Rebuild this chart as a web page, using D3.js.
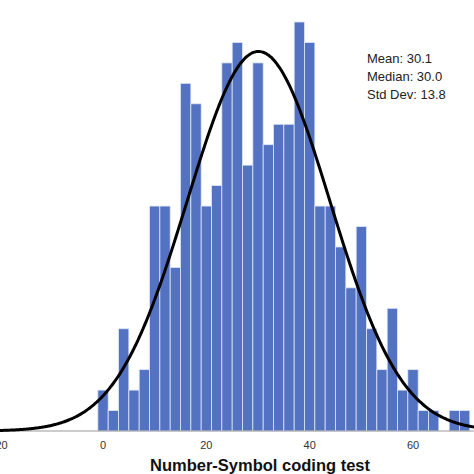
<!DOCTYPE html>
<html><head><meta charset="utf-8">
<script src="https://cdn.jsdelivr.net/npm/d3@7"></script>
<style>body{margin:0;background:#fff}</style></head>
<body><svg id="c" width="474" height="474"></svg>
<script>
const binCenters = [0,2,4,6,8,10,12,14,16,18,20,22,24,26,28,30,32,34,36,38,40,42,44,46,48,50,52,54,56,58,60,62,64,66,68,70];
const counts =     [2,1,5,2,3,11,11,8,17,16,11,12,18,19,13,18,14,15,15,20,19,11,11,9,7,10,5,3,6,2,3,1,1,0,1,1];
const tickValues = [-20,0,20,40,60];
const statsLines = ["Mean: 30.1","Median: 30.0","Std Dev: 13.8"];
const mean = 30.1, sd = 13.8, binW = 2;

const svg = d3.select("#c");
const x = d3.scaleLinear().domain([-20,60]).range([-0.3,413]);
const y = d3.scaleLinear().domain([0,20]).range([431,22]);
const N = d3.sum(counts);

svg.append("g").selectAll("rect").data(binCenters).join("rect")
  .attr("x", d=>x(d-binW/2)).attr("width", d=>x(d+binW/2)-x(d-binW/2))
  .attr("y", (d,i)=>y(counts[i])).attr("height",(d,i)=>y(0)-y(counts[i]))
  .attr("fill","#5472c2").attr("stroke","#dfe6f5").attr("stroke-width",0.8);

svg.append("line").attr("x1",0).attr("x2",474).attr("y1",y(0)).attr("y2",y(0))
  .attr("stroke","#999").attr("stroke-width",1.2);

const pts = d3.range(-21,73,0.25).map(v=>[v, N*binW/(sd*Math.sqrt(2*Math.PI))*Math.exp(-0.5*((v-mean)/sd)**2)]);
svg.append("path").attr("d", d3.line().x(d=>x(d[0])).y(d=>y(d[1])).curve(d3.curveBasis)(pts))
  .attr("fill","none").attr("stroke","#000").attr("stroke-width",3);

svg.append("g").selectAll("text").data(tickValues).join("text")
  .attr("x",d=>x(d)).attr("y",449).attr("text-anchor","middle")
  .attr("font-family","Liberation Sans, Arial, sans-serif").attr("font-size",11).attr("fill","#333")
  .text(d=>d);

svg.append("text").attr("x",260).attr("y",471).attr("text-anchor","middle")
  .attr("font-family","Liberation Sans, Arial, sans-serif").attr("font-weight","bold").attr("font-size",16.5)
  .attr("fill","#111").text("Number-Symbol coding test");

svg.append("g").selectAll("text").data(statsLines).join("text")
  .attr("x",367).attr("y",(d,i)=>63+i*18)
  .attr("font-family","Liberation Sans Narrow, Arial Narrow, Liberation Sans, sans-serif").attr("font-size",13)
  .attr("fill","#222").text(d=>d);
</script></body></html>
